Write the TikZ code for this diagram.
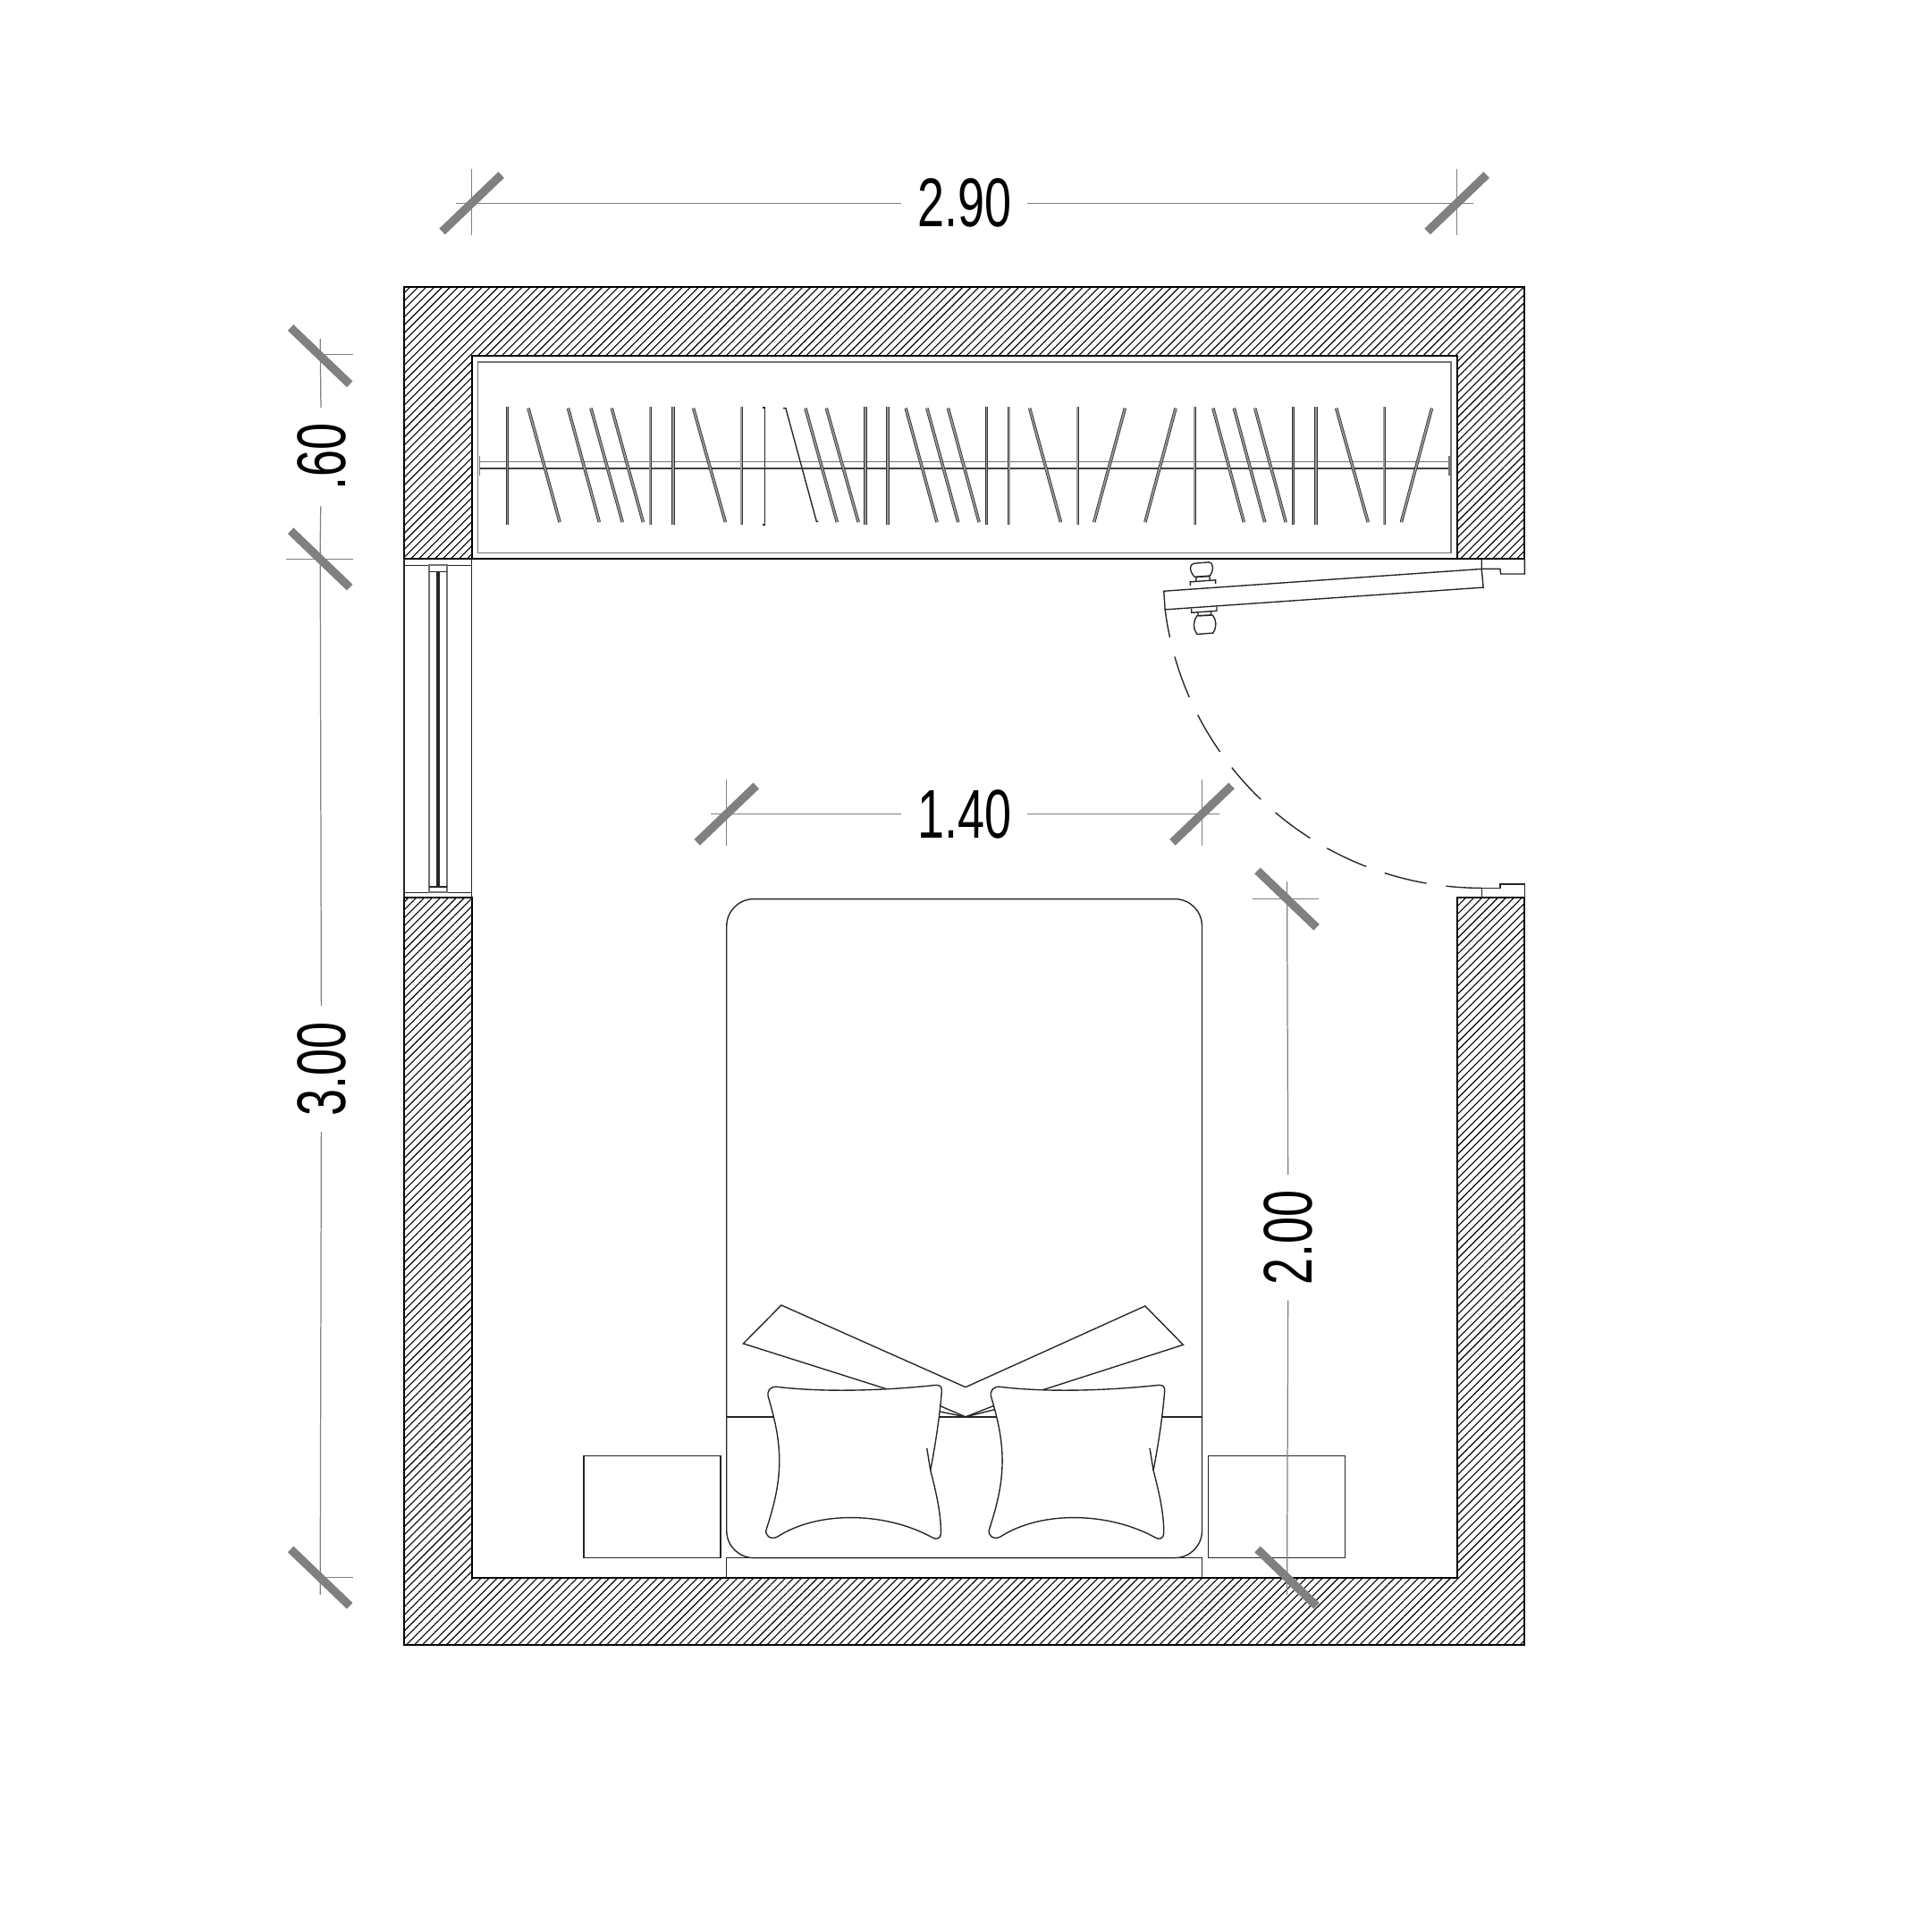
\documentclass[tikz,border=0pt]{standalone}
\usepackage{fontspec}
\setmainfont{Liberation Sans}
\usetikzlibrary{patterns.meta}

\tikzset{
  wall/.style={line width=0.75pt,pattern={Lines[angle=45,distance=2.3pt,line width=0.4pt]}},
  thinline/.style={line width=0.5pt,black!85},
  greyline/.style={line width=0.6pt,black!55},
  hanger/.style={line width=0.3pt,black!80,double=black!40,double distance=0.65pt},
  dimline/.style={line width=0.45pt,black!50},
  dimtick/.style={line width=3.4pt,black!50},
  dimlabel/.style={font=\fontsize{28}{28}\selectfont,xscale=0.7,inner xsep=9pt,inner ysep=0pt},
}

\begin{document}
\begin{tikzpicture}[x=0.5pt,y=0.5pt,yscale=-1,xscale=1]
	\useasboundingbox (0,0) rectangle (1568,1568);
	% walls
	\draw[wall] (328,454) -- (328,233) -- (1238,233) -- (1238,454) -- (1183,454) -- (1183,289) -- (383,289) -- (383,454) -- cycle ;
	\draw[wall] (328,729) -- (383,729) -- (383,1281) -- (1183,1281) -- (1183,729) -- (1238,729) -- (1238,1336) -- (328,1336) -- cycle ;
	% wardrobe
	\draw[line width=0.7pt] (383,454) -- (1183,454) ;
	\draw[greyline] (388,294) rectangle (1178,449) ;
	\draw[greyline] (389,375) -- (1177,375) ;
	\draw[line width=0.5pt,black!75] (389,380.5) -- (1177,380.5) ;
	\draw[greyline] (389.5,370) -- (389.5,386) ;
	\draw[greyline] (1176.5,370) -- (1176.5,386) ;
	\foreach \hx in {412,528,546.6,602,702.7,720.9,801,819.3,875,970,1050,1068.4,1124}
		\draw[hanger] (\hx,330.5) -- (\hx,426) ;
	\foreach \hx/\hy in {429/454.5,461.3/486.6,479.8/505.4,496.7/522.2,563/589,654/679.7,671/697,735.5/760.8,752.7/778,769.8/795,836/861.3,913.5/888.3,954.6/929.8,985/1010,1002/1027,1019/1044,1085/1110.8,1162.6/1137.8}
		\draw[hanger] (\hx,331.5) -- (\hy,424) ;
	\draw[thinline] (619,331) -- (621,331) -- (621,426) -- (619,426) ;
	\draw[thinline] (636,331.5) -- (638,331.5) -- (663,423.5) -- (664.5,423.5) ;
	% window
	\draw[thinline] (328,454) -- (328,729) ;
	\draw[thinline] (383,454) -- (383,729) ;
	\draw[thinline] (328,459) -- (383,459) ;
	\draw[thinline] (328,724.7) -- (383,724.7) ;
	\draw[greyline] (348.6,459) rectangle (363,724.7) ;
	\draw[thinline] (348.6,464) -- (363,464) ;
	\draw[thinline] (348.6,720) -- (363,720) ;
	\draw[line width=1.2pt,black!85] (355.7,464) -- (355.7,720) ;
	% door
	\draw[thinline] (945,480) -- (1203,462) -- (1204.4,477) -- (946,495) -- cycle ;
	\draw[thinline] (1203,454) -- (1203,462) -- (1218,462) -- (1218.6,466) -- (1238,466) -- (1238,454) ;
	\draw[thinline] (1203,729) -- (1203,721) -- (1218,721) -- (1218,718) -- (1238,718) -- (1238,729) ;
	\draw[thinline] (966.5,475.5) -- (966.5,472.5) -- (987,471) -- (987,474) ;
	\draw[thinline] (971,472) -- (971.5,468.5) -- (982,468) -- (982.5,471.5) ;
	\draw[thinline] (970,468.5) .. controls (965,463) and (966,458) .. (969.5,457.5) -- (981.5,456.5) .. controls (985,456.5) and (986,462) .. (982.5,467.5) -- cycle ;
	\draw[thinline] (967.5,494.5) -- (967.5,497.5) -- (988,496) -- (988,493) ;
	\draw[thinline] (972.5,497) -- (973,500) -- (983,499.5) -- (983.5,496.5) ;
	\draw[thinline] (972,500) .. controls (968.5,505) and (968.5,510) .. (972,515) -- (985,514) .. controls (988,509) and (988,504) .. (984.5,499.5) -- cycle ;
	\draw[thinline,dash pattern=on 17.5pt off 8pt,dash phase=6pt] (946,495) arc (172.7:90:259) ;
	% bed
	\draw[thinline] (612,730) -- (954,730) arc (-90:0:22) -- (976,1243) arc (0:90:22) -- (612,1265) arc (90:180:22) -- (590,752) arc (180:270:22) -- cycle ;
	\draw[thinline] (590,1281) -- (590,1265) -- (976,1265) -- (976,1281) ;
	\draw[thinline] (590,1150.5) -- (976,1150.5) ;
	\draw[thinline] (784,1126.4) -- (634.4,1059.8) -- (603.5,1091) -- (763.3,1141.6) -- (784,1150.5) ;
	\draw[thinline] (784,1126.4) -- (929.8,1060.5) -- (960.7,1092) -- (808.4,1140.9) -- (784,1150.5) ;
	\draw[thinline] (762,1146) -- (784,1150.5) -- (810,1144) ;
	% pillows
	\foreach \px in {0,181} {
		\begin{scope}[shift={(\px,0)}]
			\draw[thinline,fill=white] (630,1126) .. controls (670,1131) and (720,1129) .. (760,1124.7) .. controls (764,1124.5) and (765,1127) .. (764.6,1130) .. controls (763,1150) and (760,1170) .. (755.5,1194) .. controls (761,1215) and (764,1230) .. (764,1245) .. controls (764,1249.5) and (760,1250.5) .. (757,1248.5) .. controls (720,1228) and (665,1226) .. (631,1248) .. controls (626,1250.5) and (620,1247) .. (622.5,1241) .. controls (636,1200) and (636,1175) .. (624,1135) .. controls (622,1129) and (626,1126) .. (630,1126) -- cycle ;
			\draw[thinline] (752.6,1176) -- (755.5,1194) ;
		\end{scope}
	}
	% night tables
	\draw[thinline] (474,1182) rectangle (585,1265) ;
	\draw[thinline] (981,1182) rectangle (1092,1265) ;
	% dimensions
	\node (lblw) [dimlabel] at (783,165) {2.90};
	\node (lblb) [dimlabel] at (783,661) {1.40};
	\node (lblc) [rotate=90,dimlabel] at (261,371) {.60};
	\node (lblr) [rotate=90,dimlabel] at (261,868) {3.00};
	\node (lbll) [rotate=90,dimlabel] at (1046,1005) {2.00};
	\coordinate (wa) at (370,165);
	\coordinate (wb) at (1196,165);
	\coordinate (ba) at (577,661);
	\coordinate (bb) at (990,661);
	\coordinate (ca) at (260,275);
	\coordinate (ra) at (260,441);
	\coordinate (rb) at (260,1295);
	\coordinate (la) at (1045,716);
	\coordinate (lb) at (1045,1295);
	\draw[dimline] (wa) -- (lblw) -- (wb) ;
	\draw[dimline] (ba) -- (lblb) -- (bb) ;
	\draw[dimline] (ca) -- (lblc) ;
	\draw[dimline] (lblc) -- (ra) ;
	\draw[dimline] (ra) -- (lblr) -- (rb) ;
	\draw[dimline] (la) -- (lbll) -- (lb) ;
	\draw[dimline] (383,137) -- (383,191) ;
	\draw[dimline] (1183,137) -- (1183,191) ;
	\draw[dimline] (590,633) -- (590,687) ;
	\draw[dimline] (976,633) -- (976,687) ;
	\draw[dimline] (258,288) -- (287,288) ;
	\draw[dimline] (232,454) -- (287,454) ;
	\draw[dimline] (258,1281) -- (287,1281) ;
	\draw[dimline] (1017,730) -- (1071,730) ;
	\foreach \tx/\ty in {383/165,1183/165,590/661,976/661}
		\draw[dimtick] (\tx-24,\ty+23) -- (\tx+24,\ty-23) ;
	\foreach \tx/\ty in {260/289,260/454,260/1281,1045/730,1045/1281}
		\draw[dimtick] (\tx-24,\ty-23) -- (\tx+24,\ty+23) ;
\end{tikzpicture}
\end{document}
